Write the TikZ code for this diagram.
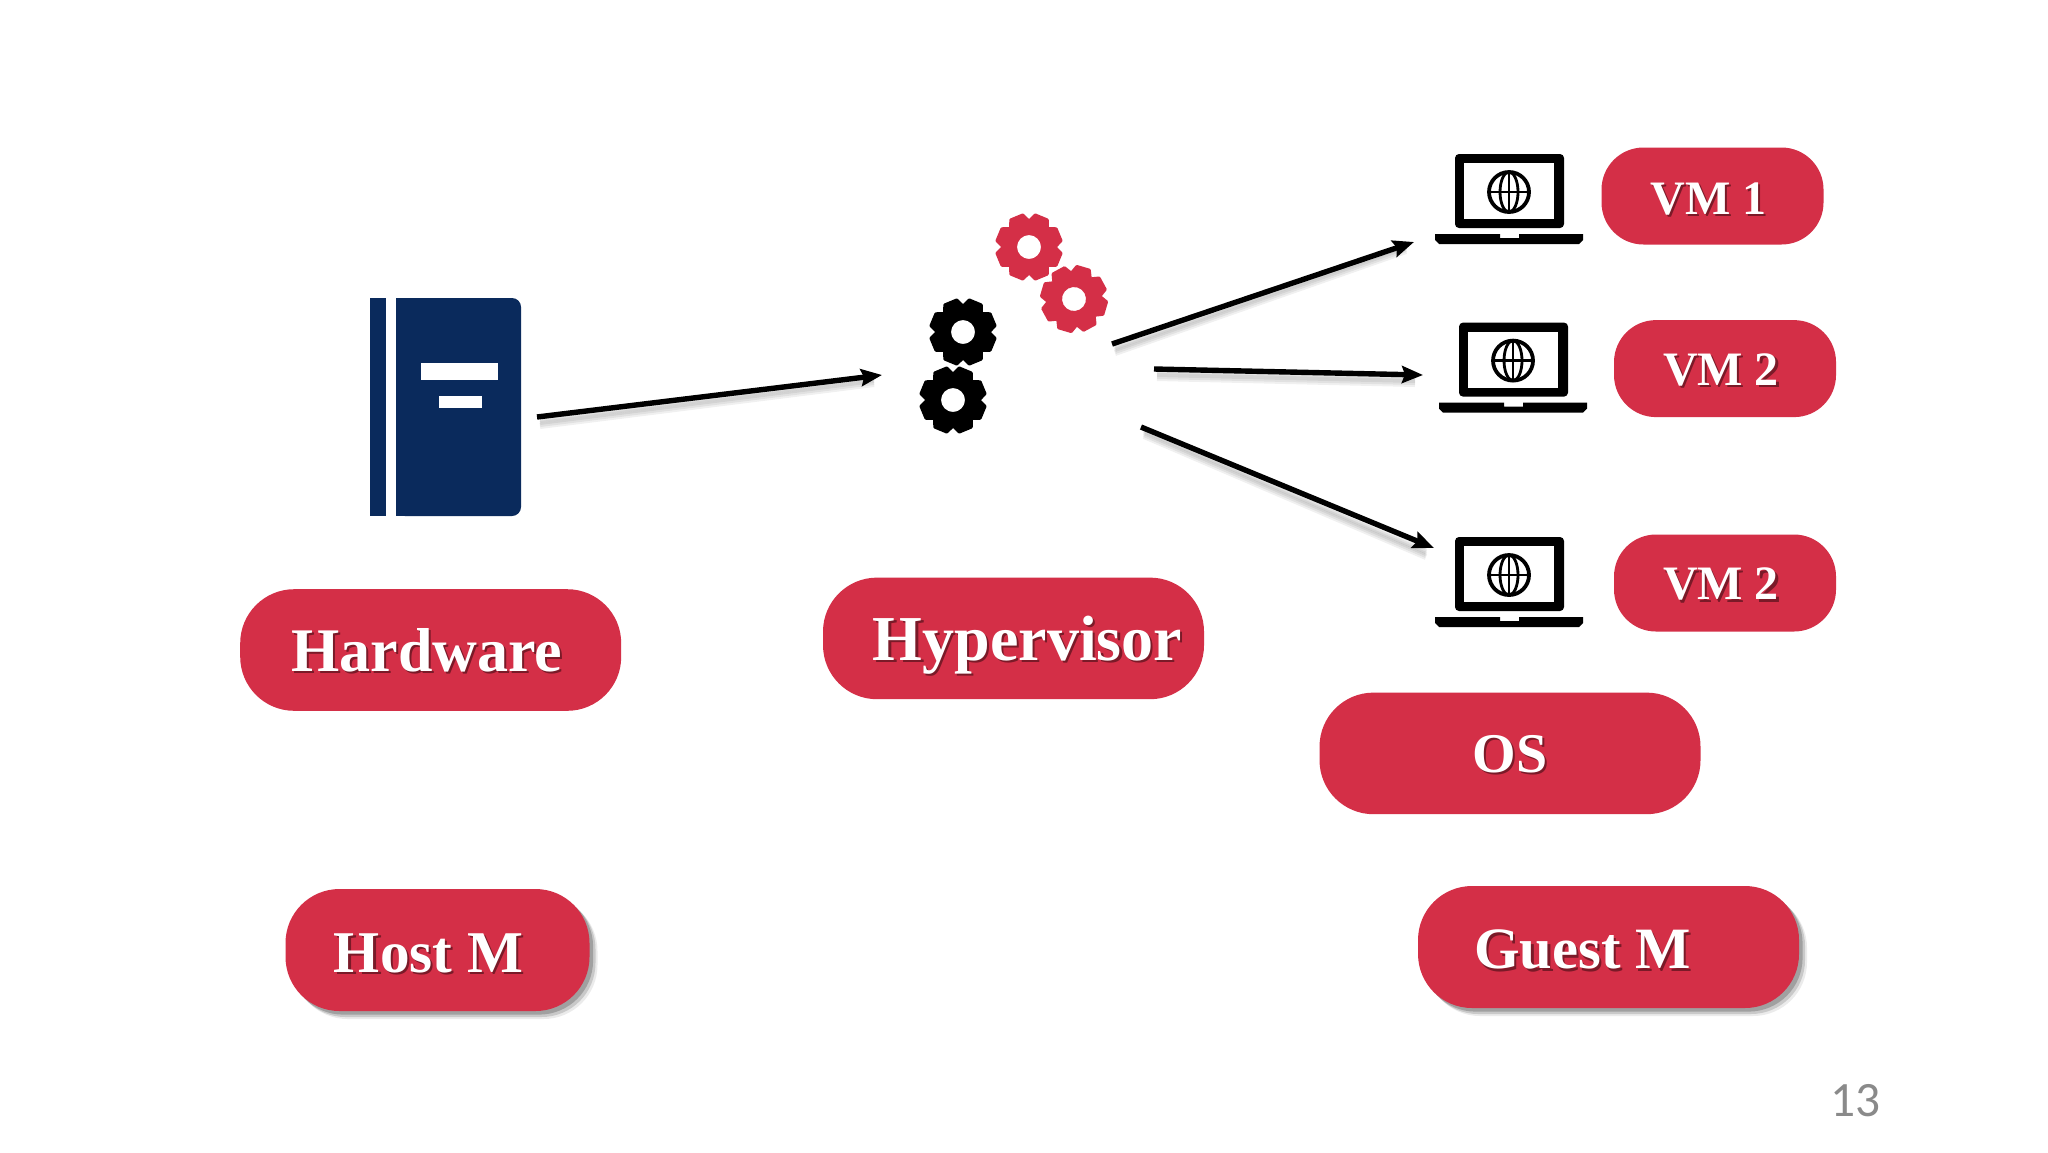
\documentclass[tikz,border=0pt]{standalone}
\usepackage{fontspec}
\setmainfont{Liberation Serif}
\newfontfamily\pagefont{Carlito}
\usetikzlibrary{arrows.meta,shadows}
\definecolor{pillred}{HTML}{D42F47}
\definecolor{booknavy}{HTML}{0A2A5C}
\definecolor{pagegray}{HTML}{8A8A8A}
\definecolor{textshade}{HTML}{7A1A28}
\newcommand{\shadedtext}[3]{\hspace*{#1}\raisebox{-#2}[\height][\depth]{\makebox[0pt][l]{\raisebox{-1.1pt}{\hspace{1.1pt}\textcolor{textshade}{#3}}}#3}}
\tikzset{
  x=0.5pt,y=-0.5pt,
  pill/.style={fill=pillred,draw=none,text=white,font=\bfseries,rounded corners=27pt,inner sep=0pt,align=center},
  pillbig/.style={pill,minimum width=190.5pt,minimum height=60.8pt},
  pillvm/.style={pill,rounded corners=21pt,minimum width=111pt,minimum height=48.5pt,font=\bfseries\fontsize{24}{28}\selectfont},
  softshadow/.style={
    general shadow={shadow xshift=4pt,shadow yshift=-4pt,fill=black,opacity=.08},
    general shadow={shadow xshift=3pt,shadow yshift=-3pt,fill=black,opacity=.14},
    general shadow={shadow xshift=1.8pt,shadow yshift=-1.8pt,fill=black,opacity=.20}},
  flow/.style={line width=2.7pt,-{Stealth[length=10.5pt,width=8.5pt,inset=1.5pt]},black},
  flowshade/.style={line width=3pt,black,opacity=.06},
  pics/gearicon/.style={code={
    \fill[#1,even odd rule] (0,0) circle[radius=26.5] (0,0) circle[radius=12];
    \foreach \a in {0,45,...,315}{
      \fill[#1,rotate=\a+22.5,rounded corners=0.5pt] (-11.5,-24) -- (-7.5,-33.5) -- (7.5,-33.5) -- (11.5,-24) -- cycle;
    }
  }},
  pics/laptopicon/.style={code={
    \fill[black,rounded corners=2pt] (-54,36) -- (-54,-38) -- (55,-38) -- (55,36) -- cycle;
    \fill[white] (-45,-29) rectangle (45,27);
    \fill[black] (-74,42) -- (-9,42) -- (-9,46) -- (10,46) -- (10,42) -- (74,42) -- (74,48) -- (70,52) -- (-70,52) -- (-74,48) -- cycle;
    \draw[black,line width=1.9pt] (0,0) circle[radius=20];
    \draw[black,line width=1.4pt] (0,0) ellipse[x radius=9,y radius=20];
    \draw[black,line width=1.4pt] (-20,0) -- (20,0) (0,-20) -- (0,20);
  }}
}
\begin{document}
\begin{tikzpicture}
\useasboundingbox (0,0) rectangle (2048,1152);
\fill[white] (0,0) rectangle (2048,1152);

% book
\fill[booknavy] (370,298) rectangle (386,516);
\fill[booknavy,rounded corners=4.5pt] (396,298) -- (521,298) -- (521,516) -- (396,516) [sharp corners] -- cycle;
\fill[booknavy] (396,298) rectangle (420,516);
\fill[white] (421,363) rectangle (498,380);
\fill[white] (439,396) rectangle (482,408);

% gears
\pic at (1029,247) {gearicon=pillred};
\pic[rotate=6] at (1074,299) {gearicon=pillred};
\pic at (963,332) {gearicon=black};
\pic at (953,400) {gearicon=black};

% laptops
\pic at (1509,192) {laptopicon};
\pic at (1513,360.6) {laptopicon};
\pic at (1509,575) {laptopicon};

% connector end points
\coordinate (hwout) at (537,417);
\coordinate (hvin) at (882,375);
\coordinate (hvout1) at (1112,344);
\coordinate (vm1in) at (1414,242);
\coordinate (hvout2) at (1154,369);
\coordinate (vm2in) at (1423,375);
\coordinate (hvout3) at (1141,427);
\coordinate (vm3in) at (1434,548);

% connector shadows
\foreach \s/\t in {hwout/hvin,hvout1/vm1in,hvout2/vm2in,hvout3/vm3in}{
  \foreach \o in {3,5,7,9}{
    \draw[flowshade] ([shift={(1.5pt,-\o*0.5pt)}]\s) -- ([shift={(-4pt,-\o*0.5pt)}]\t);
  }
}
% connectors
\draw[flow] (hwout) -- (hvin);
\draw[flow] (hvout1) -- (vm1in);
\draw[flow] (hvout2) -- (vm2in);
\draw[flow] (hvout3) -- (vm3in);

% labels
\node[pillbig,font=\bfseries\fontsize{31}{36}\selectfont] (hardware) at (430.7,650) {\shadedtext{-4pt}{0.6pt}{Hardware}};
\node[pillbig,font=\bfseries\fontsize{32}{38}\selectfont] (hypervisor) at (1013.5,638.4) {\shadedtext{14pt}{4pt}{Hypervisor}};
\node[pillbig,font=\bfseries\fontsize{28}{34}\selectfont] (os) at (1510,753.4) {\shadedtext{0pt}{1pt}{OS}};
\node[pill,softshadow,minimum width=152pt,minimum height=61pt,font=\bfseries\fontsize{29.6}{36}\selectfont] (host) at (437.5,950) {\shadedtext{-9pt}{2pt}{Host M}};
\node[pill,softshadow,minimum width=190.5pt,minimum height=61pt,font=\bfseries\fontsize{29.3}{36}\selectfont] (guest) at (1608.5,947) {\shadedtext{-26pt}{2pt}{Guest M}};
\node[pillvm] (vmone) at (1712.5,196) {\shadedtext{-4pt}{2pt}{VM 1}};
\node[pillvm] (vmtwo) at (1725,368.6) {\shadedtext{-4pt}{1.2pt}{VM 2}};
\node[pillvm] (vmthree) at (1725,583) {\shadedtext{-4pt}{1.2pt}{VM 2}};

\node[text=pagegray,font=\pagefont\fontsize{24.7}{28}\selectfont,inner sep=0pt] (pagenum) at (1855.5,1101) {13};
\end{tikzpicture}
\end{document}
